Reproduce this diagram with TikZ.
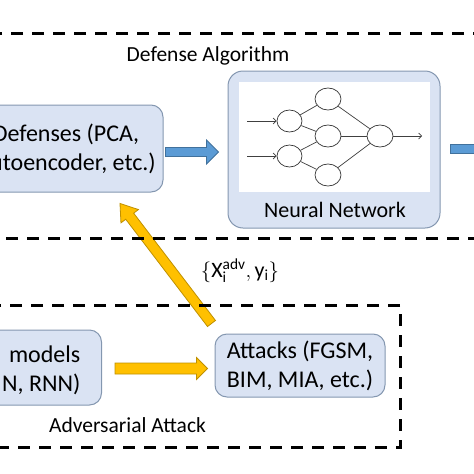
\documentclass[tikz,border=0pt]{standalone}
\usepackage{fontspec}
\setmainfont{Carlito}
\usetikzlibrary{arrows.meta,calc,positioning,shapes.geometric}

\definecolor{boxfill}{HTML}{DAE3F3}
\definecolor{boxline}{HTML}{8497B0}
\definecolor{bluefill}{HTML}{5B9BD5}
\definecolor{blueline}{HTML}{41719C}
\definecolor{goldfill}{HTML}{FFC000}
\definecolor{goldline}{HTML}{BF9000}

\tikzset{
  algobox/.style={draw=boxline,fill=boxfill,rounded corners=12pt,line width=1pt,align=center,inner sep=0pt,font=\fontsize{24}{29}\selectfont},
  neuron/.style={ellipse,draw=black!80,line width=0.7pt,minimum width=25pt,minimum height=22pt,inner sep=0pt},
  synapse/.style={draw=black!75,line width=0.7pt},
  fence/.style={draw=black,line width=3pt,dash pattern=on 12pt off 9pt},
  fat shaft/.initial=4.5pt, fat head/.initial=12pt, fat len/.initial=12pt,
  fat/.style={to path={let \p1=(\tikztostart),\p2=(\tikztotarget),\n1={atan2(\y2-\y1,\x2-\x1)},
    \p3=($(\p2)!\pgfkeysvalueof{/tikz/fat len}!(\p1)$) in
    ($(\p1)+(\n1+90:\pgfkeysvalueof{/tikz/fat shaft})$) -- ($(\p3)+(\n1+90:\pgfkeysvalueof{/tikz/fat shaft})$)
    -- ($(\p3)+(\n1+90:\pgfkeysvalueof{/tikz/fat head})$) -- (\p2)
    -- ($(\p3)+(\n1-90:\pgfkeysvalueof{/tikz/fat head})$) -- ($(\p3)+(\n1-90:\pgfkeysvalueof{/tikz/fat shaft})$)
    -- ($(\p1)+(\n1-90:\pgfkeysvalueof{/tikz/fat shaft})$) -- cycle}},
  bluearrow/.style={fat,fill=bluefill,draw=blueline,line width=0.8pt},
  goldarrow/.style={fat,fill=goldfill,draw=goldline,line width=0.8pt},
}

\begin{document}
\begin{tikzpicture}[x=1pt,y=-1pt]
\useasboundingbox (0,0) rectangle (474,474);
\clip (0,0) rectangle (474,474);

% upper part: defense algorithm
\node[font=\fontsize{21.5}{25}\selectfont] (deflabel) at (208,56) {Defense Algorithm};
\node[algobox,minimum width=194pt,minimum height=87pt] (defenses) at (66,148.5) {Defenses (PCA,\\Autoencoder, etc.)};
\node[algobox,rounded corners=15pt,minimum width=212pt,minimum height=157pt] (nn) at (334,149.5) {};
\node[fill=white,minimum width=191pt,minimum height=110pt,inner sep=0pt] (nnplot) at (334.5,137) {};
\node[font=\fontsize{22}{26}\selectfont] (nnlabel) at (335,210) {Neural Network};

% the small network
\node[neuron] (n1) at (289.5,121) {};
\node[neuron] (n2) at (289.5,156) {};
\node[neuron,minimum width=26pt] (h1) at (328,99) {};
\node[neuron,minimum width=26pt] (h2) at (328,136) {};
\node[neuron,minimum width=26pt] (h3) at (328,175) {};
\node[neuron,minimum width=26pt] (out) at (380,136) {};
\coordinate (x1) at (247,121);\coordinate (x2) at (247,156);\coordinate (y) at (422,136);
\draw[synapse,-{Straight Barb[length=3pt,width=6pt]}] (x1) -- (n1);
\draw[synapse,-{Straight Barb[length=3pt,width=6pt]}] (x2) -- (n2);
\draw[synapse,-{Straight Barb[length=3pt,width=6pt]}] (out) -- (y);
\foreach \a/\b in {n1/h1,n1/h2,n2/h2,n2/h3,h1/out,h2/out,h3/out}
  \draw[synapse] (\a) -- (\b);

\coordinate (nextstage) at (500,149);
\path[bluearrow] ($(defenses.east)+(2,3.5)$) to ($(nn.west)+(-9,2.5)$);
\path[bluearrow] ($(nn.east)+(10,-0.5)$) to (nextstage);

% lower part: adversarial attack
\node[algobox,minimum width=160pt,minimum height=75pt,anchor=east] (models) at (102,367.5) {};
\node[font=\fontsize{24}{29}\selectfont,align=right,anchor=east,inner sep=0pt] (modelstext) at (80.5,370) {models\\N, RNN)};
\node[algobox,minimum width=170pt,minimum height=63pt] (attacks) at (300,365.5) {Attacks (FGSM,\\BIM, MIA, etc.)};
\node[font=\fontsize{21.5}{25}\selectfont] (attlabel) at (127.5,425) {Adversarial Attack};
\node[font=\fontsize{22}{26}\selectfont] (advset) at (240,271) {$\{\mathrm{X}_{\mathrm{i}}^{\mathrm{adv}},\mathrm{y}_{\mathrm{i}}\}$};

\path[goldarrow,fat shaft=5.5pt,fat head=11pt,fat len=11pt] ($(models.east)+(13,1)$) to ($(attacks.west)+(-7,3)$);
\path[goldarrow,fat shaft=5pt,fat head=11pt,fat len=16pt] ($(attacks.north west)+(-3,-10)$) to ($(defenses.south)+(54,11)$);

% dashed frames
\draw[fence] (-20,33) rectangle (500,238);
\draw[fence] (-50,305) rectangle (400.5,447);
\end{tikzpicture}
\end{document}
